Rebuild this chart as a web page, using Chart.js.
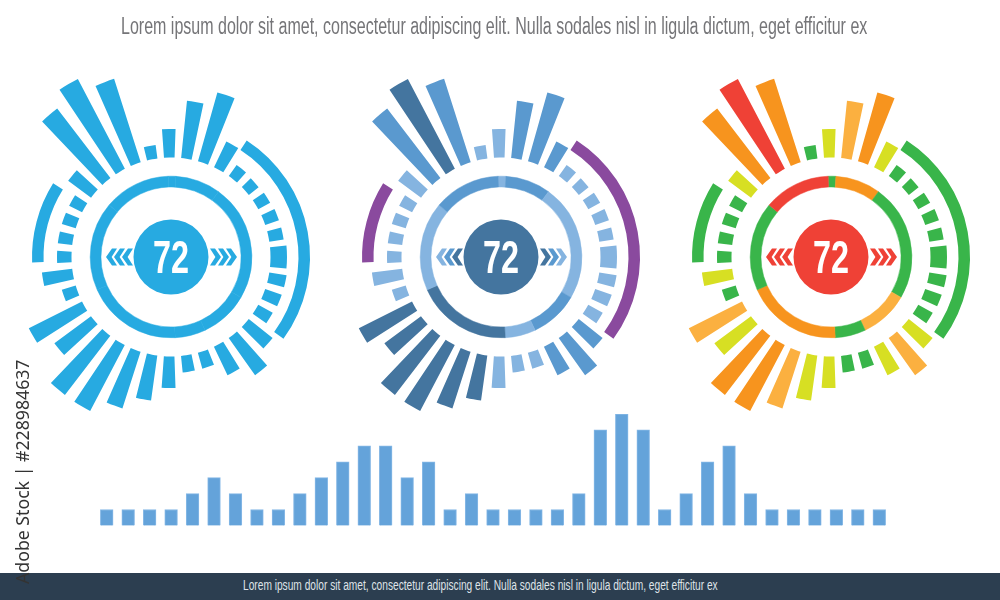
<!DOCTYPE html>
<html>
<head>
<meta charset="utf-8">
<script src="https://cdn.jsdelivr.net/npm/chart.js@4/dist/chart.umd.js"></script>
<style>
html, body { margin: 0; padding: 0; background: #fff; }
#page { position: relative; width: 1000px; height: 600px; overflow: hidden; background: #fff; }
canvas { position: absolute; }
#footer { position: absolute; left: 0; top: 573px; width: 1000px; height: 27px; background: #2c3e50; }
.line { position: absolute; white-space: nowrap; font-family: "Liberation Sans Narrow", "Liberation Sans", sans-serif; transform-origin: 0 50%; }
#title { left: 121px; top: 13px; font-size: 23.5px; line-height: 26px; color: #757578; }
#subtitle { left: 243px; top: 576px; font-size: 15.5px; line-height: 18px; color: #dfe3e8; }
#stock { left: 14px; top: 584px; font-family: "Noto Sans", sans-serif; font-size: 17.7px; line-height: 17px; color: #333; transform-origin: 0 0; transform: rotate(-90deg); }
</style>
</head>
<body>
<div id="page">
  <div id="footer"></div>
  <canvas id="gauge1" width="440" height="440" style="left:-49px;top:37px"></canvas>
  <canvas id="gauge2" width="440" height="440" style="left:281px;top:37px"></canvas>
  <canvas id="gauge3" width="440" height="440" style="left:611px;top:37px"></canvas>
  <canvas id="levels" width="794" height="113" style="left:96px;top:414px"></canvas>
  <div class="line" id="title">Lorem ipsum dolor sit amet, consectetur adipiscing elit. Nulla sodales nisl in ligula dictum, eget efficitur ex</div>
  <div class="line" id="subtitle">Lorem ipsum dolor sit amet, consectetur adipiscing elit. Nulla sodales nisl in ligula dictum, eget efficitur ex</div>
  <div class="line" id="stock">Adobe Stock | #228984637</div>
</div>
<script>
// radial bars, clockwise from 12 o'clock
const barValues = [128, 157, 171, 128, 113, 112, 113, 114, 114, 116, 117, 117,
    116, 130, 145, 131, 116, 116, 131, 145, 159, 174, 174, 145,
    159, 114, 130, 114, 114, 114, 114, 128, 187, 201, 187, 113];

const blueTones = [2, 1, 1, 1, 2, 2, 2, 2, 2, 2, 2, 2,
    2, 1, 1, 1, 2, 2, 2, 0, 0, 0, 0, 0,
    0, 2, 2, 2, 2, 2, 2, 2, 1, 0, 1, 2];

const heatTones = [3, 2, 1, 3, 4, 4, 4, 4, 4, 4, 4, 4,
    4, 3, 2, 3, 4, 4, 3, 3, 2, 1, 1, 3,
    2, 4, 3, 4, 4, 4, 4, 3, 1, 0, 1, 4];

// inner ring, spans in degrees
const ringSpans = [5.5, 32.5, 84, 35, 22, 69, 64, 48];
const ringBlueTones = [2, 1, 2, 1, 2, 0, 2, 1];
const ringHeatTones = [4, 1, 4, 2, 4, 1, 4, 0];

// outer arcs, spans in degrees (arc, gap, arc, gap)
const arcSpans = [93, 141.7, 34.3, 91];

const centerValue = '72';

const levelValues = [1, 1, 1, 1, 2, 3, 2, 1, 1, 2, 3, 4, 5, 5, 3, 4, 1, 2, 1,
    1, 1, 1, 2, 6, 7, 6, 1, 2, 4, 5, 2, 1, 1, 1, 1, 1, 1];

const CYAN = '#27aae1';
const BLUES = ['#44759f', '#5a99cf', '#85b4e0'];
const HEAT = ['#ef4136', '#f7941e', '#fbb040', '#d7df23', '#39b54a'];
const PURPLE = '#8a4a9e';

const SLOT = 9.886;
const WIDE_SLOT = 14;
const WIDE_BAR = 9;

// polar area whose slices can start away from the centre, with a gap between them
class RadialBarController extends Chart.PolarAreaController {
    updateElement(arc, index, properties, mode) {
        const dataset = this.getDataset();
        const scale = this._cachedMeta.rScale;
        const rotation = Chart.helpers.toRadians(dataset.rotation || 0);
        const pad = Chart.helpers.toRadians((dataset.pad ? dataset.pad(index) : 0) / 2);

        properties.innerRadius = scale.getDistanceFromCenterForValue(dataset.base || 0);
        properties.startAngle += rotation + pad;
        properties.endAngle += rotation - pad;

        super.updateElement(arc, index, properties, mode);
    }
}
RadialBarController.id = 'radialBars';
Chart.register(RadialBarController);

function chevron(ctx, x, y, dir) {
    const h = 8.5;
    const w = 6;
    const t = 5;

    ctx.beginPath();
    ctx.moveTo(x, y);
    ctx.lineTo(x + dir * w, y - h);
    ctx.lineTo(x + dir * (w + t), y - h);
    ctx.lineTo(x + dir * (t + 0.6), y);
    ctx.lineTo(x + dir * (w + t), y + h);
    ctx.lineTo(x + dir * w, y + h);
    ctx.closePath();
    ctx.fill();
}

const centerPlugin = {
    id: 'gaugeCenter',
    afterDatasetsDraw(chart, args, opts) {
        const { ctx } = chart;
        const { xCenter, yCenter } = chart.scales.r;

        ctx.save();
        opts.arrows.forEach((color, i) => {
            ctx.fillStyle = color;
            chevron(ctx, xCenter - 65 + i * 8, yCenter, 1);
            chevron(ctx, xCenter + 66 - i * 8, yCenter, -1);
        });
        ctx.fillStyle = '#fff';
        ctx.font = 'bold 47px "Liberation Sans Narrow", "Liberation Sans", sans-serif';
        ctx.textAlign = 'center';
        ctx.textBaseline = 'alphabetic';
        ctx.fillText(centerValue, xCenter, yCenter + 16, 36);
        ctx.restore();
    },
};

function createGauge(id, colors) {
    return new Chart(document.getElementById(id), {
        type: 'radialBars',
        plugins: [centerPlugin],
        data: {
            datasets: [
                {
                    data: [37.5],
                    angle: [360],
                    backgroundColor: [colors.disc],
                    borderWidth: 0,
                },
                {
                    base: 70,
                    rotation: -2,
                    data: ringSpans.map(() => 80.8),
                    angle: ringSpans,
                    backgroundColor: colors.ring,
                    // hides the hairline seams between the segments
                    borderColor: colors.ring,
                    borderWidth: 0.5,
                },
                {
                    base: 99.5,
                    rotation: -5.94,
                    pad: (i) => (i === WIDE_BAR ? 2.6 : 3.8),
                    data: barValues,
                    angle: barValues.map((v, i) => (i === WIDE_BAR ? WIDE_SLOT : SLOT)),
                    backgroundColor: colors.bars,
                    borderWidth: 0,
                },
                {
                    base: 127.5,
                    rotation: 33,
                    data: arcSpans.map(() => 139),
                    angle: arcSpans,
                    backgroundColor: [colors.arc, 'transparent', colors.arc, 'transparent'],
                    borderWidth: 0,
                },
            ],
        },
        options: {
            responsive: false,
            animation: false,
            events: [],
            layout: { padding: 0 },
            scales: {
                r: {
                    type: 'radialLinear',
                    display: false,
                    min: 0,
                    max: 220,
                    ticks: { display: false },
                    pointLabels: { display: false },
                },
            },
            plugins: {
                legend: { display: false },
                tooltip: { enabled: false },
                gaugeCenter: { arrows: colors.arrows },
            },
        },
    });
}

createGauge('gauge1', {
    disc: CYAN,
    arc: CYAN,
    ring: ringSpans.map(() => CYAN),
    bars: barValues.map(() => CYAN),
    arrows: [CYAN, CYAN, CYAN],
});

createGauge('gauge2', {
    disc: BLUES[0],
    arc: PURPLE,
    ring: ringBlueTones.map((t) => BLUES[t]),
    bars: blueTones.map((t) => BLUES[t]),
    arrows: [BLUES[2], BLUES[1], BLUES[0]],
});

createGauge('gauge3', {
    disc: HEAT[0],
    arc: HEAT[4],
    ring: ringHeatTones.map((t) => HEAT[t]),
    bars: heatTones.map((t) => HEAT[t]),
    arrows: [HEAT[0], HEAT[0], HEAT[0]],
});

new Chart(document.getElementById('levels'), {
    type: 'bar',
    data: {
        labels: levelValues.map((v, i) => i + 1),
        datasets: [{
            data: levelValues,
            backgroundColor: '#64a3da',
            borderColor: '#86b8e6',
            borderWidth: 1,
            barThickness: 12.7,
        }],
    },
    options: {
        responsive: false,
        animation: false,
        events: [],
        layout: { padding: 0 },
        scales: {
            x: { display: false },
            y: { display: false, min: -0.1, max: 7 },
        },
        plugins: {
            legend: { display: false },
            tooltip: { enabled: false },
        },
    },
});

// squeeze the text lines to the measured widths
function fitWidth(id, width) {
    const el = document.getElementById(id);
    el.style.transform = `scaleX(${width / el.offsetWidth})`;
}
fitWidth('title', 746);
fitWidth('subtitle', 475);
</script>
</body>
</html>
